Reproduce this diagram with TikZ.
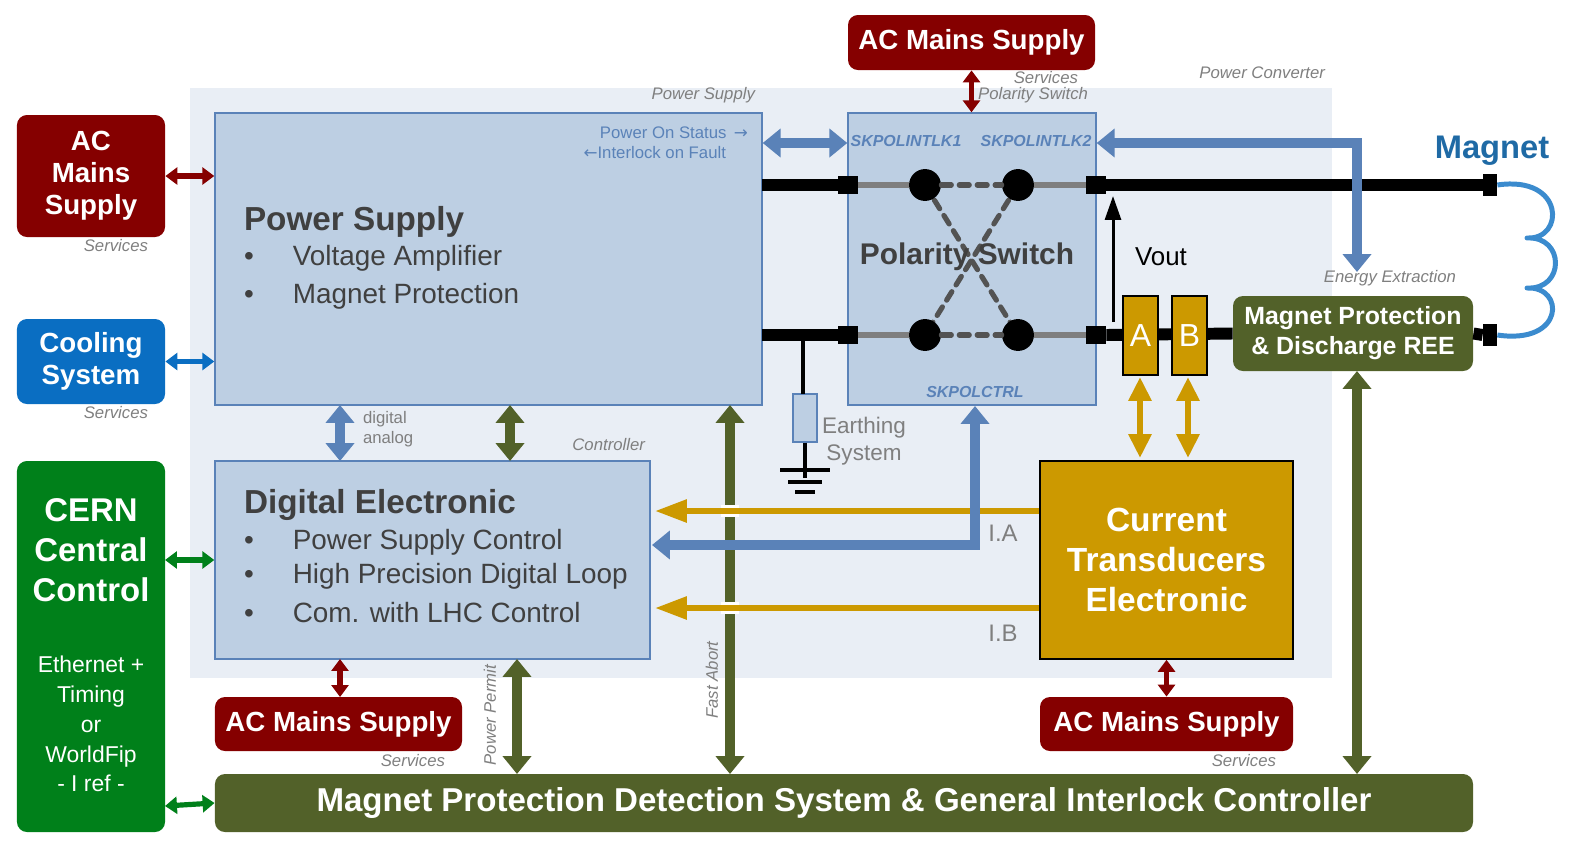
\documentclass[tikz,border=0pt]{standalone}
\usepackage{fontspec}
\setmainfont{Liberation Sans}
\newfontfamily\dv{DejaVu Sans}
\usetikzlibrary{arrows.meta}
\definecolor{acred}{HTML}{850000}
\definecolor{coolb}{HTML}{0A6EC2}
\definecolor{cerng}{HTML}{00801A}
\definecolor{olive}{HTML}{526129}
\definecolor{gold}{HTML}{CC9900}
\definecolor{boxb}{HTML}{BDCFE3}
\definecolor{bgb}{HTML}{E9EEF5}
\definecolor{steel}{HTML}{5A82B8}
\definecolor{dtext}{HTML}{404040}
\definecolor{gtext}{HTML}{7F7F7F}
\definecolor{magb}{HTML}{1F6AA5}
\begin{document}
\begin{tikzpicture}[x=0.5bp,y=-0.5bp,
 rbox/.style={rounded corners=5pt,draw=none,text=white,font=\bfseries\fontsize{13.9}{16}\selectfont,align=center},
 lbox/.style={fill=boxb,draw=steel,line width=0.7pt},
 svc/.style={font=\itshape\fontsize{8.4}{9}\selectfont,text=gtext},
 sk/.style={font=\bfseries\itshape\fontsize{8}{9}\selectfont,text=steel},
 bul/.style={font=\fontsize{14}{16}\selectfont,text=dtext,anchor=west},
 bigd/.style={line width=5pt,{Triangle[width=14pt,length=9pt]}-{Triangle[width=14pt,length=9pt]}},
 medd/.style={line width=2.6pt,{Triangle[width=8.5pt,length=6pt]}-{Triangle[width=8.5pt,length=6pt]}},
 gd/.style={line width=3pt,{Triangle[width=11pt,length=12pt]}-{Triangle[width=11pt,length=12pt]}},
 gl/.style={line width=3pt,-{Triangle[width=11pt,length=16pt]}},
 bus/.style={line width=6pt,black},
 gbus/.style={line width=3pt,gtext},
 term/.style={fill=black,minimum width=10pt,minimum height=9pt,inner sep=0pt},
 dot/.style={circle,fill=black,minimum size=16pt,inner sep=0pt},
 dsh/.style={line width=2.6pt,dtext!90,dash pattern=on 5pt off 4pt,line cap=round}]
\useasboundingbox (0,0) rectangle (1579,852);
% background
\fill[bgb] (190,88) rectangle (1332,678);
\node[svc,anchor=south east] (pcl) at (1332,86) {Power Converter};
% boxes
\node[lbox,minimum width=273.5bp,minimum height=146bp,inner sep=0pt] (ps) at (488.5,259) {};
\node[lbox,minimum width=217.5bp,minimum height=99bp,inner sep=0pt] (de) at (432.5,560) {};
\node[lbox,minimum width=124bp,minimum height=146bp,inner sep=0pt] (pw) at (972,259) {};
\node[fill=gold,draw=black,line width=0.8pt,minimum width=126.5bp,minimum height=99bp,inner sep=0pt,text=white,font=\bfseries\fontsize{16.8}{20}\selectfont,align=center] (ct) at (1166.5,560) {Current\\Transducers\\Electronic};
% service boxes
\node[rbox,fill=acred,minimum width=123.5bp,minimum height=27.5bp] (act) at (971.5,42.5) {AC Mains Supply};
\node[rbox,fill=acred,minimum width=74bp,minimum height=61bp] (acl) at (91,176) {AC\\Mains\\Supply};
\node[rbox,fill=coolb,minimum width=74bp,minimum height=42.5bp] (cool) at (91,361.5) {Cooling\\System};
\node[rbox,fill=cerng,minimum width=74bp,minimum height=185.5bp] (cern) at (91,646.5) {};
\node[rbox,fill=acred,minimum width=123.5bp,minimum height=27bp] (acbl) at (338.5,724) {AC Mains Supply};
\node[rbox,fill=acred,minimum width=126.5bp,minimum height=27bp] (acbr) at (1166.5,724) {AC Mains Supply};
\node[rbox,fill=olive,minimum width=629bp,minimum height=29bp,font=\bfseries\fontsize{16.6}{18}\selectfont] (mpds) at (844,803) {Magnet Protection Detection System \& General Interlock Controller};
\node[rbox,fill=olive,minimum width=120bp,minimum height=37.5bp,font=\bfseries\fontsize{12.5}{15}\selectfont] (ree) at (1353,333.5) {Magnet Protection\\\& Discharge REE};
% CERN texts
\node[text=white,font=\bfseries\fontsize{16.5}{20}\selectfont,align=center] (cernt) at (91,550) {CERN\\Central\\Control};
\node[text=white,font=\fontsize{11.5}{15}\selectfont,align=center] (cerns) at (91,724) {Ethernet +\\Timing\\or\\WorldFip\\- I ref -};
% services labels
\node[svc,anchor=east] (s1) at (155,246) {Services};
\node[svc,anchor=east] (s2) at (155,413) {Services};
\node[svc,anchor=east] (s3) at (1085,78) {Services};
\node[svc,anchor=east] (s4) at (452,761) {Services};
\node[svc,anchor=east] (s5) at (1283,761) {Services};
\node[svc,anchor=south east] (l1) at (762,110) {Power Supply};
\node[svc,anchor=south east] (l2) at (1095,110) {Polarity Switch};
\node[svc,anchor=south east] (l3) at (652,458) {Controller};
\node[svc,anchor=south east] (l4) at (1463,293) {Energy Extraction};
% power supply text
\node[font=\bfseries\fontsize{16.7}{18}\selectfont,text=dtext,anchor=west] (pst) at (237,222) {Power Supply};
\node[bul] (b1) at (237,258) {\textbullet\hspace{19.5bp}Voltage Amplifier};
\node[bul] (b2) at (237,296) {\textbullet\hspace{19.5bp}Magnet Protection};
\node[font=\fontsize{8.4}{9}\selectfont,text=steel,anchor=east] (pos) at (755,133) {Power On Status {\dv\,→}};
\node[font=\fontsize{8.4}{9}\selectfont,text=steel,anchor=east] (iof) at (733,153) {{\dv←}Interlock on Fault};
% digital
\node[font=\bfseries\fontsize{16.7}{18}\selectfont,text=dtext,anchor=west] (det) at (237,505) {Digital Electronic};
\node[bul] (c1) at (237,542) {\textbullet\hspace{19.5bp}Power Supply Control};
\node[bul] (c2) at (237,576) {\textbullet\hspace{19.5bp}High Precision Digital Loop};
\node[bul] (c3) at (237,613) {\textbullet\hspace{19.5bp}Com. with LHC Control};
% buses
\node[term] (t1) at (848,185) {};
\node[term] (t2) at (848,335) {};
\node[term] (t3) at (1096,185) {};
\node[term] (t4) at (1096,335) {};
\node[term,minimum width=7bp,minimum height=11bp] (m1) at (1490,185) {};
\node[term,minimum width=7bp,minimum height=11bp] (m2) at (1490,335) {};
\draw[bus] (762,185) -- (t1.west);
\draw[bus] (762,335) -- (t2.west);
\draw[bus] (t3.east) -- (m1.west);
\draw[bus] (t4.east) -- (ree.west);
\draw[bus] (ree.east) -- (m2.west);
\coordinate (c1p) at (925,185);
\coordinate (c2p) at (1018,185);
\coordinate (c3p) at (925,335);
\coordinate (c4p) at (1018,335);
\draw[dsh] (c1p) -- (c4p);
\draw[dsh] (c2p) -- (c3p);
\node[dot] (d1) at (c1p) {};
\node[dot] (d2) at (c2p) {};
\node[dot] (d3) at (c3p) {};
\node[dot] (d4) at (c4p) {};
\draw[gbus] (t1.east) -- (d1.west);
\draw[gbus] (d2.east) -- (t3.west);
\draw[gbus] (t2.east) -- (d3.west);
\draw[gbus] (d4.east) -- (t4.west);
\draw[dsh] (d1.east) -- (d2.west);
\draw[dsh] (d3.east) -- (d4.west);
\node[font=\bfseries\fontsize{15}{18}\selectfont,text=dtext] (pwt) at (967,257) {Polarity Switch};
\node[sk] (k1) at (906,141) {SKPOLINTLK1};
\node[sk] (k2) at (1036,141) {SKPOLINTLK2};
\node[sk] (k3) at (975,392) {SKPOLCTRL};
% A B
\node[fill=gold,draw=black,line width=0.8pt,minimum width=17.5bp,minimum height=39.5bp,inner sep=0pt,text=white,font=\fontsize{16}{18}\selectfont] (A) at (1140.5,335.5) {A};
\node[fill=gold,draw=black,line width=0.8pt,minimum width=17.5bp,minimum height=39.5bp,inner sep=0pt,text=white,font=\fontsize{16}{18}\selectfont] (B) at (1189.5,335.5) {B};
% magnet coil
\node[font=\bfseries\fontsize{16.4}{18}\selectfont,text=magb] (mag) at (1492,151) {Magnet};
\draw[line width=2.5pt,coolb!80,line join=round] (m1.east) .. controls (1565,175) and (1565,240) .. (1527,238)
  .. controls (1565,236) and (1565,290) .. (1527,288)
  .. controls (1565,286) and (1565,345) .. (m2.east);
% Vout
\coordinate (v0) at (1113,322);
\draw[line width=1.5pt,-{Triangle[width=8pt,length=12pt]}] (v0) -- (1113,196);
\node[font=\fontsize{13}{15}\selectfont,anchor=west] (vout) at (1128,257) {Vout};
% earthing
\node[fill=boxb,draw=steel,line width=0.7pt,minimum width=12bp,minimum height=24bp,inner sep=0pt] (res) at (805,418) {};
\coordinate (g0) at (805,478);
\draw[line width=2.5pt] (803,335) -- (803,394);
\draw[line width=2.5pt] (res.south) -- (g0);
\draw[line width=2.5pt] (780,470) -- (830,470);
\draw[line width=2.5pt] (788,482) -- (822,482);
\draw[line width=2.5pt] (795,492) -- (815,492);
\node[font=\fontsize{11.3}{13.5}\selectfont,text=gtext,align=center] (eth) at (864,441) {Earthing\\System};
% red arrows
\draw[medd,acred] (acl.east) -- (ps.west |- acl.east);
\draw[medd,acred] (act.south) -- (act.south |- pw.north);
\draw[medd,acred] (340,659) -- (340,697);
\draw[medd,acred] (ct.south) -- (acbr.north);
\draw[medd,coolb] (cool.east) -- (ps.west |- cool.east);
\draw[medd,cerng] (165,560) -- (de.west);
\draw[medd,cerng] (165,806) -- (mpds.west);
% blue arrows
\draw[bigd,steel] (ps.east |- 0,143) -- (pw.west |- 0,143);
\draw[bigd,steel] (1357,272) -- (1357,143) -- (pw.east |- 0,143);
\draw[bigd,steel] (340,405) -- (340,461);
\node[font=\fontsize{8.4}{10}\selectfont,text=gtext,align=left,anchor=west] (da) at (356,429) {digital\\analog};
% olive
\draw[bigd,olive] (510,405) -- (510,461);
\draw[bigd,olive] (517,659) -- (517,774);
\draw[bigd,olive] (730,405) -- (730,774);
\draw[bigd,olive] (1357,371) -- (1357,774);
\node[svc,rotate=90] (pp) at (490,715) {Power Permit};
\node[svc,rotate=90] (fa) at (712,680) {Fast Abort};
% gold
\fill[white] (721,505) rectangle (739,517);
\fill[white] (721,602) rectangle (739,614);
\draw[gl,gold] (ct.west |- 0,511) -- (655,511);
\draw[gl,gold] (ct.west |- 0,608) -- (655,608);
\draw[gd,gold] (1140,377) -- (1140,458);
\draw[gd,gold] (1188,377) -- (1188,458);
\node[font=\fontsize{12}{14}\selectfont,text=gtext] (ia) at (1003,533) {I.A};
\node[font=\fontsize{12}{14}\selectfont,text=gtext] (ib) at (1003,633) {I.B};
% SKPOLCTRL blue
\draw[bigd,steel] (975,406) -- (975,545) -- (652,545);
\end{tikzpicture}
\end{document}
